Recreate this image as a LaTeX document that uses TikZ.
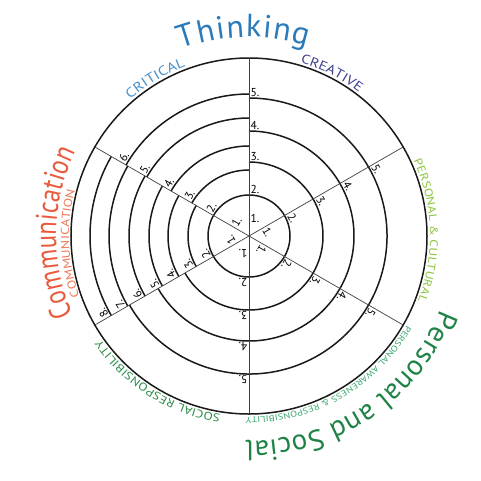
\documentclass[tikz,border=0pt]{standalone}
\usepackage{fontspec}
\setmainfont{PT Sans}
\newfontfamily\narrowfont[FakeStretch=0.82]{PT Sans}
\newfontfamily\widefont[FakeStretch=1.2]{PT Sans}
\usetikzlibrary{decorations.text}
\definecolor{thinkblue}{HTML}{2B7BBA}
\definecolor{critblue}{HTML}{4A92CA}
\definecolor{creatnavy}{HTML}{3C4290}
\definecolor{commred}{HTML}{E95A3C}
\definecolor{commlight}{HTML}{EE7A5A}
\definecolor{pcgreen}{HTML}{8DC63F}
\definecolor{psgreen}{HTML}{1F8345}
\definecolor{pagreen}{HTML}{3BAA70}
\definecolor{srgreen}{HTML}{2F8F4A}

\begin{document}
\begin{tikzpicture}[x=1pt,y=1pt,
  ring/.style={line width=1.5pt,black!90},
  spoke/.style={line width=0.7pt,black!75},
  lvl/.style={font=\fontsize{11.5}{11.5}\selectfont,inner sep=1.5pt,anchor=south west},
  bendtext/.style 2 args={decorate,decoration={text along path,
      text align=fit to path,text={|#1|#2}}}]
  \fill[white] (-249,-244) rectangle (232,236);
  \useasboundingbox (-249,-244) rectangle (232,236);
  \coordinate (o) at (0,0);

  % rings
  \draw[ring] (o) circle[radius=41];
  \draw[ring] (o) circle[radius=178];
  \foreach \r in {74,105,138}
    \draw[ring] (210:\r) arc[start angle=210,end angle=450,radius=\r];
  \foreach \r in {66,90,118,142}
    \draw[ring] (90:\r) arc[start angle=90,end angle=150,radius=\r];
  \foreach \r in {61,81,100,120,140,159}
    \draw[ring] (150:\r) arc[start angle=150,end angle=210,radius=\r];

  % spokes
  \foreach \a in {30,90,...,330}
    \draw[spoke] (o) -- (\a:178);

  % level numbers
  \foreach \a in {90,30,-30,270}
    \foreach \r [count=\k] in {12,41,74,105,138}
      \node[lvl,rotate=\a-90] (lv-\a-\k) at (\a:\r) {\k.};
  \foreach \r [count=\k] in {12,41,66,90,118,142}
    \node[lvl,rotate=60] (lv-crit-\k) at (150:\r) {\k.};
  \foreach \r [count=\k] in {12,41,61,81,100,120,140,159}
    \node[lvl,rotate=120] (lv-comm-\k) at (210:\r) {\k.};

  % competency names
  \path[bendtext={\fontsize{32}{32}\selectfont\color{thinkblue}}{Thinking}]
    (110:199) arc[start angle=110,end angle=73,radius=199];
  \path[bendtext={\narrowfont\fontsize{30}{30}\selectfont\color{commred}}{Communication}]
    (204:193) arc[start angle=204,end angle=154,radius=193];
  \path[bendtext={\fontsize{29}{29}\selectfont\color{psgreen}}{Personal and Social}]
    (-21:205) arc[start angle=-21,end angle=-91,radius=205];

  % sub-competencies
  \path[bendtext={\widefont\fontsize{13.5}{13.5}\selectfont\color{critblue}}{CRITICAL}]
    (131:181) arc[start angle=131,end angle=110.5,radius=181];
  \path[bendtext={\widefont\fontsize{13}{13}\selectfont\color{creatnavy}}{CREATIVE}]
    (73.5:181) arc[start angle=73.5,end angle=53,radius=181];
  \path[bendtext={\widefont\fontsize{11.2}{11.2}\selectfont\color{pcgreen}}{PERSONAL {\&} CULTURAL}]
    (24.5:181) arc[start angle=24.5,end angle=-20,radius=181];
  \path[bendtext={\widefont\fontsize{8.5}{8.5}\selectfont\color{pagreen}}{PERSONAL AWARENESS {\&} RESPONSIBILITY}]
    (-29.5:181) arc[start angle=-29.5,end angle=-91,radius=181];
  \path[bendtext={\widefont\fontsize{11.2}{11.2}\selectfont\color{srgreen}}{SOCIAL RESPONSIBILITY}]
    (261:181) arc[start angle=261,end angle=215,radius=181];
  \path[bendtext={\widefont\fontsize{11.5}{11.5}\selectfont\color{commlight}}{COMMUNICATION}]
    (199.5:180) arc[start angle=199.5,end angle=165.5,radius=180];
\end{tikzpicture}
\end{document}
